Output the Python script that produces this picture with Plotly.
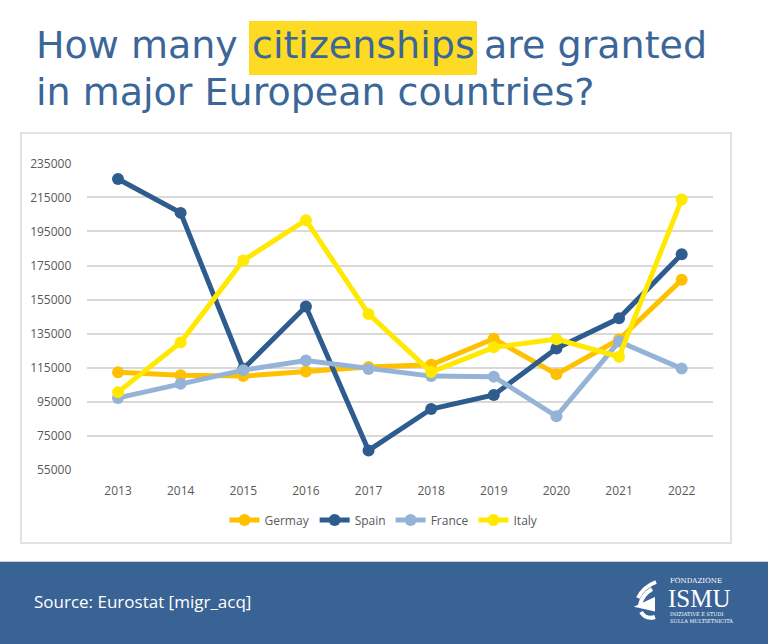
import plotly.graph_objects as go

years = ["2013", "2014", "2015", "2016", "2017", "2018", "2019", "2020", "2021", "2022"]
germany = [112300, 110600, 110100, 112800, 115400, 116800, 132000, 111200, 131600, 166600]
spain = [225800, 205900, 114400, 150900, 66500, 90800, 99000, 126300, 144000, 181600]
france = [97300, 105600, 113600, 119200, 114300, 110100, 109800, 86500, 130400, 114500]
italy = [100700, 129900, 178000, 201600, 146600, 112500, 127000, 131800, 121500, 213700]
series_names = ["Germay", "Spain", "France", "Italy"]
series_colors = ["#FFC000", "#2F5C8F", "#95B3D7", "#FFE900"]
y_ticks = [55000, 75000, 95000, 115000, 135000, 155000, 175000, 195000, 215000, 235000]

W, H = 768, 644
def px(x):
    return x / W
def py(y):
    return 1 - y / H

fig = go.Figure()
for name, vals, col in zip(series_names, [germany, spain, france, italy], series_colors):
    fig.add_trace(go.Scatter(
        x=years, y=vals, name=name, mode="lines+markers",
        line=dict(color=col, width=5),
        marker=dict(color=col, size=12),
        cliponaxis=False,
    ))

title_col = "#3B6698"
tfont = "DejaVu Sans"
tsize = 38
shapes = [
    dict(type="rect", xref="paper", yref="paper", x0=px(21), x1=px(731), y0=py(543), y1=py(133),
         line=dict(color="#D9D9D9", width=1.5), fillcolor="rgba(0,0,0,0)", layer="below"),
    dict(type="rect", xref="paper", yref="paper", x0=px(249), x1=px(477), y0=py(75), y1=py(21),
         line=dict(width=0), fillcolor="#FDDA24", layer="below"),
    dict(type="rect", xref="paper", yref="paper", x0=0, x1=1, y0=0, y1=py(562),
         line=dict(width=0), fillcolor="#3A6395", layer="below"),
    dict(type="line", xref="paper", yref="paper", x0=0, x1=1, y0=py(561.5), y1=py(561.5),
         line=dict(color="#C8CDD4", width=1)),
]
logo_paths = [
    "M 656 582 Q 643 587 638 598",
    "M 652 589 Q 642 595 640 605",
    "M 653 600 L 640 606 L 653 609 Z",
    "M 641 612 Q 646 620 655 617",
]
for p in logo_paths:
    toks = p.split()
    out = []
    i = 0
    while i < len(toks):
        t = toks[i]
        if t.isalpha():
            out.append(t)
            i += 1
        else:
            xx = float(toks[i]); yy = float(toks[i + 1])
            out.append(f"{px(xx):.5f},{py(yy):.5f}")
            i += 2
    path = " ".join(out)
    shp = dict(type="path", xref="paper", yref="paper", path=path,
               line=dict(color="white", width=4))
    if path.endswith("Z"):
        shp["fillcolor"] = "white"
    shapes.append(shp)

annotations = [
    dict(text="How many", x=px(240), y=py(45), xanchor="right", yanchor="middle",
         font=dict(family=tfont, size=tsize, color=title_col)),
    dict(text="citizenships", x=px(363), y=py(45), xanchor="center", yanchor="middle",
         font=dict(family=tfont, size=tsize, color=title_col)),
    dict(text="are granted", x=px(482), y=py(45), xanchor="left", yanchor="middle",
         font=dict(family=tfont, size=tsize, color=title_col)),
    dict(text="in major European countries?", x=px(34), y=py(92), xanchor="left", yanchor="middle",
         font=dict(family=tfont, size=tsize, color=title_col)),
    dict(text="Source: Eurostat [migr_acq]", x=px(32), y=py(601), xanchor="left", yanchor="middle",
         font=dict(family="Open Sans", size=17, color="white")),
    dict(text="FONDAZIONE", x=px(668), y=py(581), xanchor="left", yanchor="middle",
         font=dict(family="DejaVu Serif", size=7, color="white")),
    dict(text="ISMU", x=px(666), y=py(598), xanchor="left", yanchor="middle", height=22,
         font=dict(family="Liberation Serif", size=25, color="white")),
    dict(text="INIZIATIVE E STUDI", x=px(668), y=py(614), xanchor="left", yanchor="middle",
         font=dict(family="DejaVu Serif", size=5, color="white")),
    dict(text="SULLA MULTIETNICITÀ", x=px(668), y=py(621), xanchor="left", yanchor="middle",
         font=dict(family="DejaVu Serif", size=5, color="white")),
]
for a in annotations:
    a.update(xref="paper", yref="paper", showarrow=False)

fig.update_layout(
    width=W, height=H,
    margin=dict(l=0, r=0, t=0, b=0, pad=0),
    paper_bgcolor="white", plot_bgcolor="white",
    shapes=shapes, annotations=annotations,
    showlegend=True,
    legend=dict(orientation="h", x=0.5, xanchor="center", y=py(520), yanchor="middle",
                font=dict(family="Open Sans", size=12, color="#595959"),
                itemwidth=30, tracegroupgap=0, bgcolor="rgba(0,0,0,0)"),
    xaxis=dict(domain=[px(86.7), px(713)], type="category", range=[-0.5, 9.5], automargin=False,
               showgrid=False, showline=False, zeroline=False,
               ticks="outside", ticklen=10, tickcolor="rgba(0,0,0,0)",
               tickfont=dict(family="Open Sans", size=12, color="#595959")),
    yaxis=dict(domain=[py(470), py(163.3)], range=[55000, 235000], automargin=False,
               tickvals=y_ticks, ticktext=[str(v) for v in y_ticks],
               showgrid=True, gridcolor="#D9D9D9", gridwidth=1.5, zeroline=False, showline=False,
               ticks="outside", ticklen=12, tickcolor="rgba(0,0,0,0)",
               tickfont=dict(family="Open Sans", size=12, color="#595959")),
)

fig.write_html("out.html")
